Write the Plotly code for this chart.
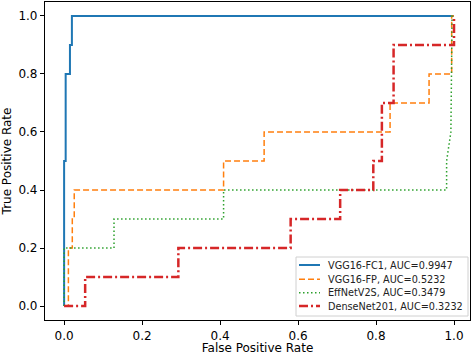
import plotly.graph_objects as go

vgg_fc1_fpr = [0.0, 0.0, 0.004, 0.004, 0.015, 0.015, 0.02, 0.02, 1.0]
vgg_fc1_tpr = [0.0, 0.5, 0.5, 0.8, 0.8, 0.9, 0.9, 1.0, 1.0]

vgg_fp_fpr = [0.0, 0.011, 0.011, 0.021, 0.021, 0.026, 0.026, 0.409, 0.409, 0.513, 0.513, 0.836, 0.836, 0.936, 0.936, 0.994, 0.994, 1.0]
vgg_fp_tpr = [0.0, 0.0, 0.2, 0.2, 0.3, 0.3, 0.4, 0.4, 0.5, 0.5, 0.6, 0.6, 0.7, 0.7, 0.8, 0.8, 1.0, 1.0]

eff_fpr = [0.0, 0.0, 0.013, 0.128, 0.128, 0.409, 0.409, 0.981, 0.981, 0.992, 0.995, 1.0]
eff_tpr = [0.0, 0.2, 0.2, 0.2, 0.3, 0.3, 0.4, 0.4, 0.5, 0.6, 1.0, 1.0]

dense_fpr = [0.0, 0.054, 0.054, 0.293, 0.293, 0.581, 0.581, 0.708, 0.708, 0.793, 0.793, 0.815, 0.815, 0.845, 0.845, 1.0, 1.0]
dense_tpr = [0.0, 0.0, 0.1, 0.1, 0.2, 0.2, 0.3, 0.3, 0.4, 0.4, 0.5, 0.5, 0.7, 0.7, 0.9, 0.9, 1.0]

names = ["VGG16-FC1, AUC=0.9947", "VGG16-FP, AUC=0.5232",
         "EffNetV2S, AUC=0.3479", "DenseNet201, AUC=0.3232"]
tick_vals = [0.0, 0.2, 0.4, 0.6, 0.8, 1.0]
tick_text = ["0.0", "0.2", "0.4", "0.6", "0.8", "1.0"]

W, H = 474, 355
ML, MR, MT, MB = 45, 4, 2, 35
PW, PH = W - ML - MR, H - MT - MB

styles = [
    dict(color="#1f77b4", width=2),
    dict(color="#ff7f0e", width=1.5, dash="6px,3px"),
    dict(color="#2ca02c", width=1.5, dash="1.5px,2.5px"),
    dict(color="#d62728", width=2.5, dash="9px,3px,2px,3px"),
]
series = [(vgg_fc1_fpr, vgg_fc1_tpr), (vgg_fp_fpr, vgg_fp_tpr),
          (eff_fpr, eff_tpr), (dense_fpr, dense_tpr)]

fig = go.Figure()
for (xs, ys), name, st in zip(series, names, styles):
    fig.add_trace(go.Scatter(x=xs, y=ys, mode="lines", name=name, line=st,
                             showlegend=False))


def px(x):
    return (x - ML) / PW


def py(y):
    return (H - MB - y) / PH


# matplotlib-style compact legend box (lower right)
box = dict(x0=296, x1=468, y0=257, y1=316)
rows_y = [265, 279.3, 292.7, 306]
fig.add_shape(type="rect", xref="paper", yref="paper",
              x0=px(box["x0"]), x1=px(box["x1"]), y0=py(box["y1"]), y1=py(box["y0"]),
              line=dict(color="#d0d0d0", width=1), fillcolor="rgba(255,255,255,0.85)",
              layer="above")
for name, st, ry in zip(names, styles, rows_y):
    fig.add_shape(type="line", xref="paper", yref="paper",
                  x0=px(299), x1=px(320), y0=py(ry), y1=py(ry), line=st, layer="above")
    fig.add_annotation(xref="paper", yref="paper", x=px(326), y=py(ry), text=name,
                       showarrow=False, xanchor="left", yanchor="middle",
                       font=dict(family="DejaVu Sans", size=9.7, color="#222222"))

axis_common = dict(showgrid=False, zeroline=False, showline=True, linecolor="black",
                   linewidth=1.2, mirror=True, ticks="outside", ticklen=4, tickwidth=1,
                   tickcolor="black", tickvals=tick_vals, ticktext=tick_text,
                   automargin=False,
                   tickfont=dict(family="DejaVu Sans", size=12, color="black"))

fig.update_layout(
    width=W, height=H,
    margin=dict(l=ML, r=MR, t=MT, b=MB, autoexpand=False),
    paper_bgcolor="white", plot_bgcolor="white",
    font=dict(family="DejaVu Sans", color="black"),
    xaxis=dict(range=[-0.049, 1.041],
               title=dict(text="False Positive Rate", font=dict(size=12), standoff=5),
               **axis_common),
    yaxis=dict(range=[-0.048, 1.048],
               title=dict(text="True Positive Rate", font=dict(size=12), standoff=4),
               **axis_common),
    showlegend=False,
)

fig.write_html("out.html", config={"displayModeBar": False},
               post_script="document.body.style.margin='0';document.body.style.overflow='hidden';")
